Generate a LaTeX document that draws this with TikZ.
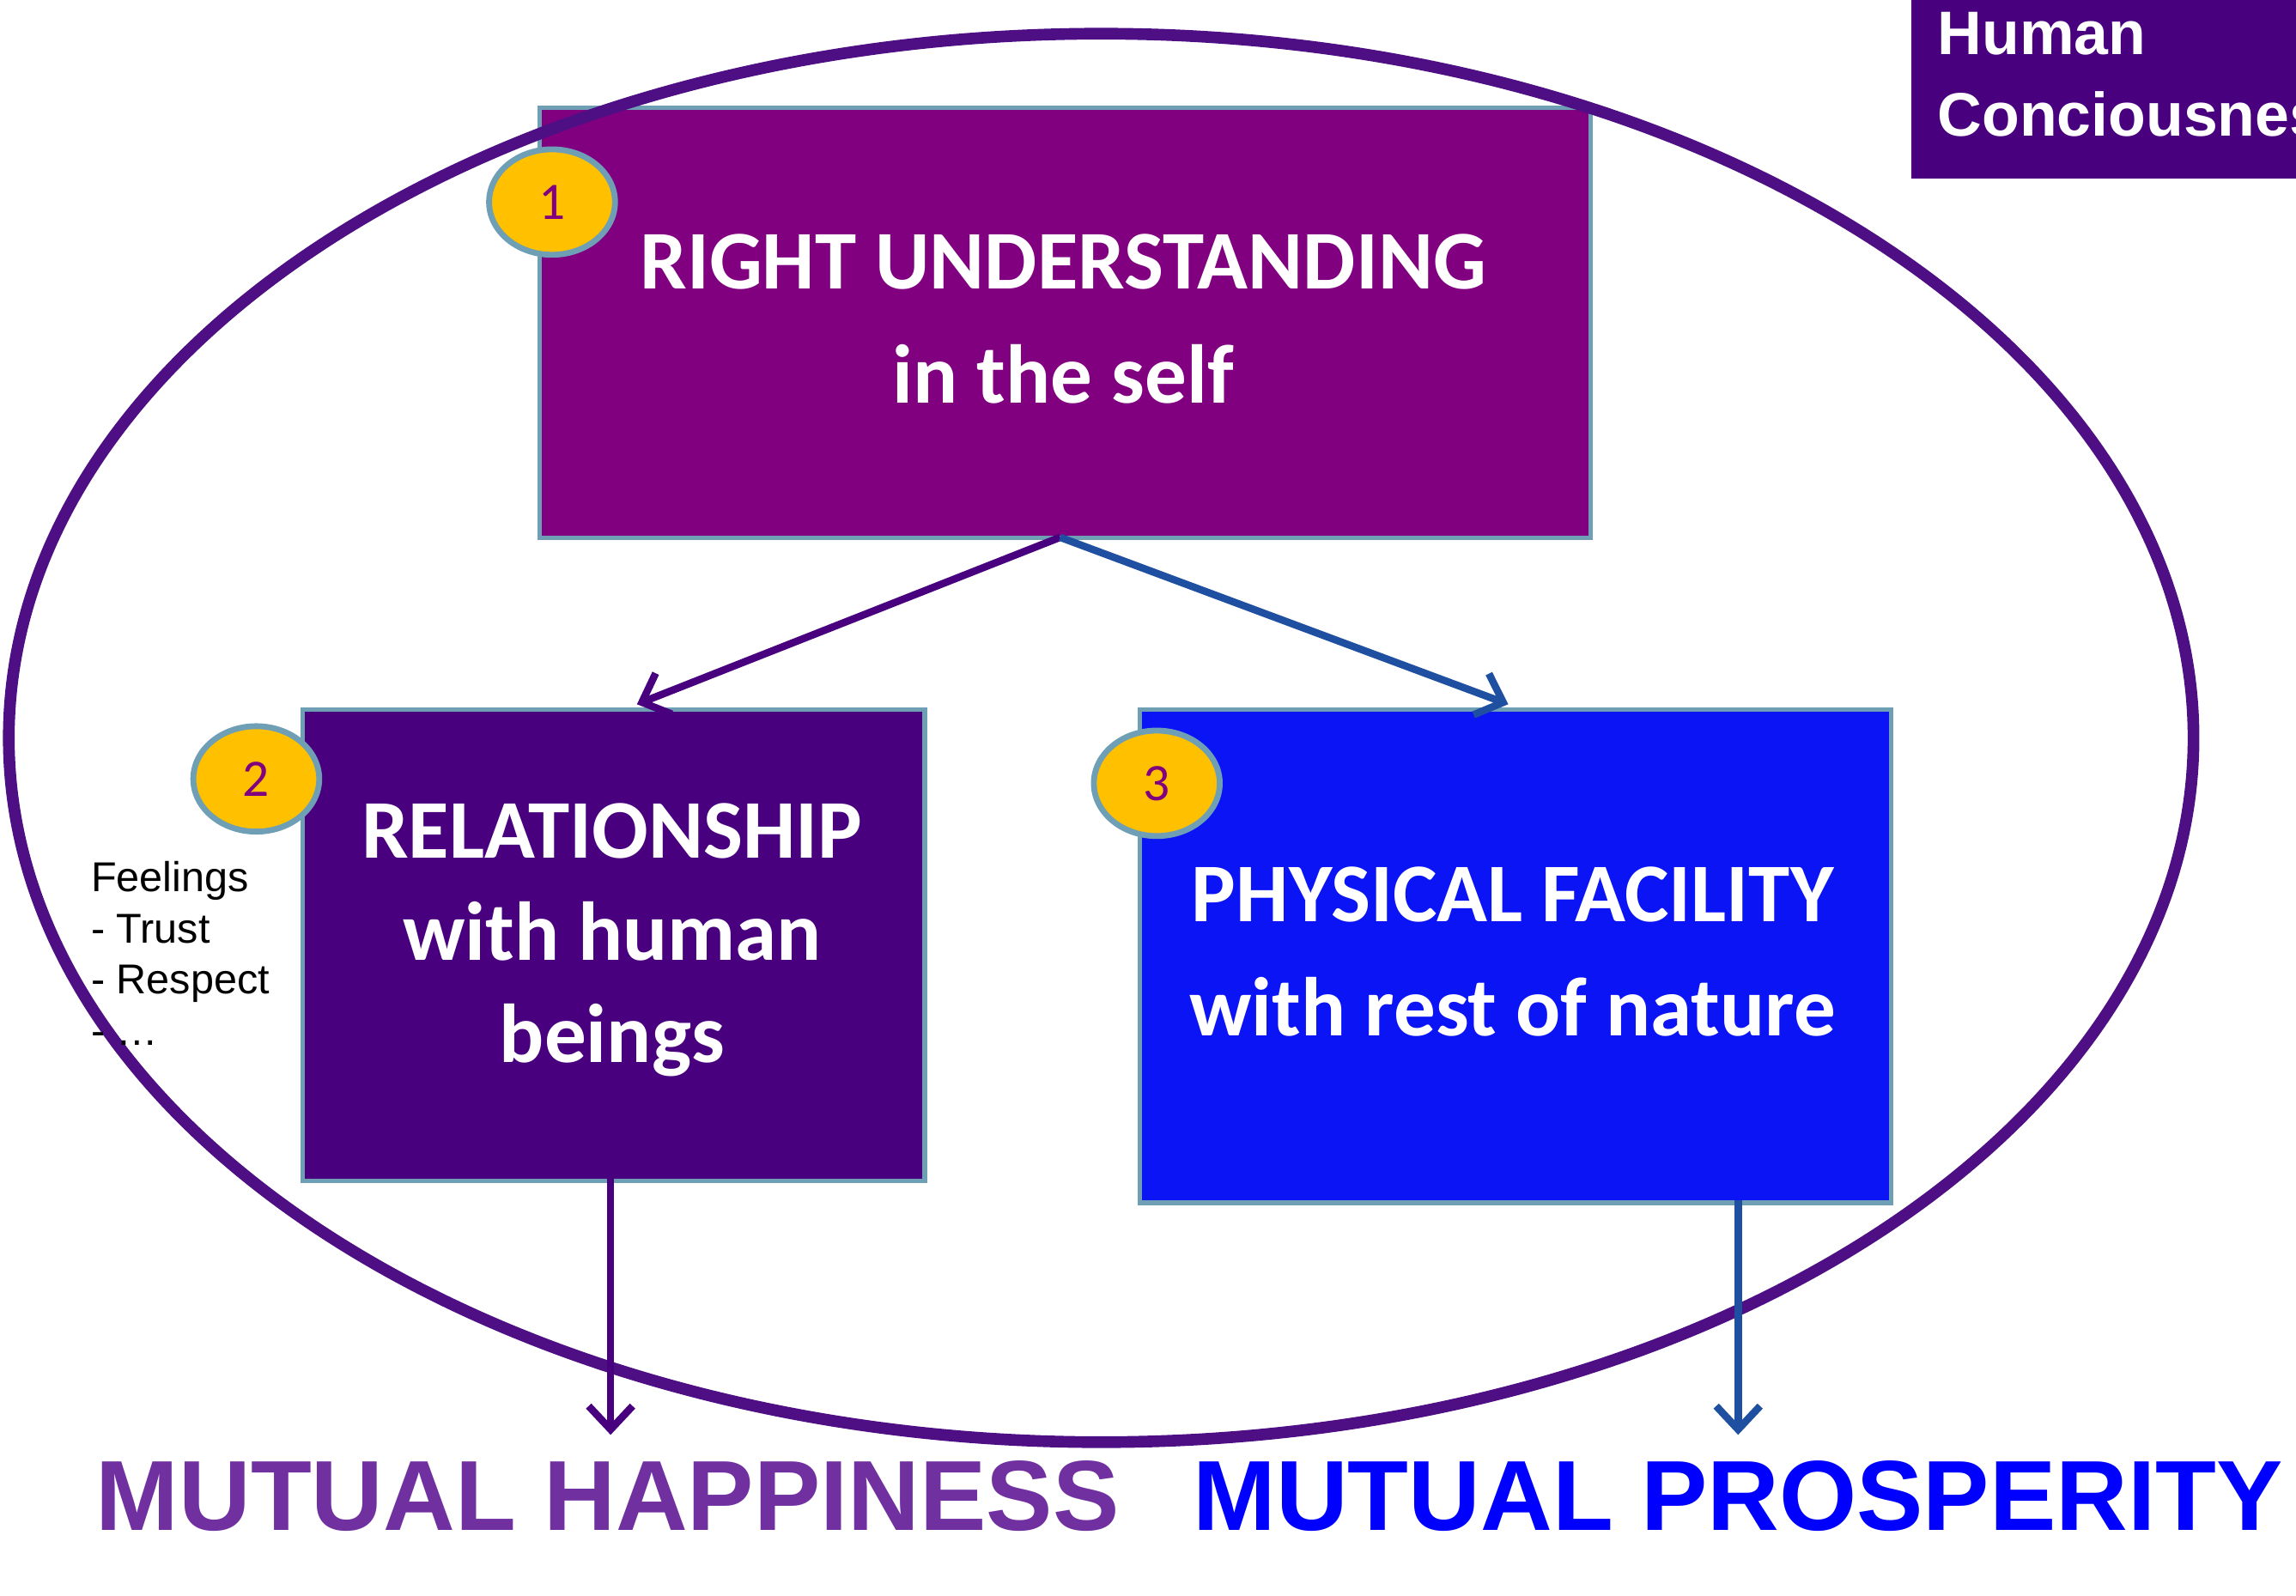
\documentclass[tikz,border=0pt]{standalone}
\usepackage{fontspec}
\setmainfont{Carlito}
\newfontfamily\arialf{Liberation Sans}
\usetikzlibrary{arrows.meta,shapes.geometric}
\definecolor{ellc}{HTML}{4E0F85}
\definecolor{bord}{HTML}{6F9FB5}
\definecolor{boxa}{HTML}{800080}
\definecolor{boxb}{HTML}{48007E}
\definecolor{boxc}{HTML}{0A14F5}
\definecolor{yel}{HTML}{FFC000}
\definecolor{arb}{HTML}{1F4FA0}
\definecolor{hap}{HTML}{7030A0}
\tikzset{
 bx/.style={draw=bord,line width=3pt,anchor=north west,inner sep=0pt},
 bt/.style={text=white,align=center,font=\bfseries\fontsize{57}{#1}\selectfont},
 num/.style={ellipse,draw=bord,fill=yel,line width=4pt,minimum width=86pt,minimum height=72pt,inner sep=0pt,text=boxa,font=\fontsize{36}{40}\selectfont},
 ar/.style={line width=5pt,-{Straight Barb[length=16pt,width=30pt,line width=5pt]}},
 big/.style={font=\arialf\bfseries\fontsize{68}{72}\selectfont},
}
\begin{document}
\begin{tikzpicture}[x=1pt,y=-1pt]
\useasboundingbox (0,0) rectangle (1568,1090);
\clip (0,0) rectangle (1568,1090);
\node[bx,fill=boxa,minimum width=718pt,minimum height=294pt] (b1) at (367,72) {};
\node[bt=78] (t1) at (726,218) {RIGHT UNDERSTANDING\\in the self};
\node[bx,fill=boxb,minimum width=425pt,minimum height=322pt] (b2) at (205,483) {};
\node[bt=70] (t2) at (418,642) {RELATIONSHIP\\with human\\beings};
\node[bx,fill=boxc,minimum width=513pt,minimum height=337pt] (b3) at (777,483) {};
\node[bt=78] (t3) at (1033,650) {PHYSICAL FACILITY\\with rest of nature};
\draw[ellc,line width=8pt] (752,504) ellipse [x radius=746,y radius=481];
\node[num] (n1) at (377,138) {1};
\node[num] (n2) at (175,532) {2};
\node[num] (n3) at (790,535) {3};
\node[fill=boxb,anchor=north west,minimum width=300pt,minimum height=122pt,inner sep=0pt] (hc) at (1305,0) {};
\node[anchor=north west,text=white,font=\arialf\bfseries\fontsize{42}{56}\selectfont,align=left,inner sep=0pt] (hct) at (1323,8) {Human\\Conciousness};
\node[anchor=north west,font=\arialf\fontsize{28.5}{35}\selectfont,align=left,inner sep=0pt] (fl) at (62,588) {Feelings\\- Trust\\- Respect\\- \dots};
\coordinate (top) at (724,367);
\draw[ar,boxb] (top) -- (435,481);
\draw[ar,arb] (top) -- (1030,481);
\coordinate (h) at (417,980);
\coordinate (p) at (1187,980);
\draw[ar,boxb] (417,805) -- (h);
\draw[ar,arb] (1187,820) -- (p);
\node[big,text=hap] (mh) at (415,1022) {MUTUAL HAPPINESS};
\node[big,text=blue] (mp) at (1187,1022) {MUTUAL PROSPERITY};
\end{tikzpicture}
\end{document}
